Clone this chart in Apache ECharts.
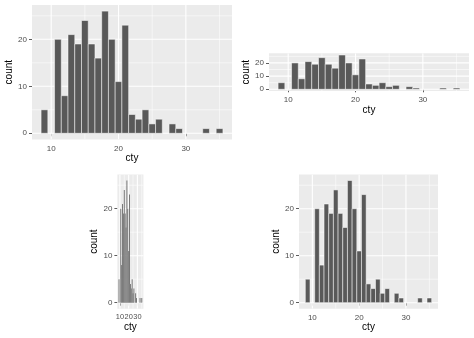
<!DOCTYPE html>
<html>
<head>
<meta charset="utf-8">
<script src="https://cdn.jsdelivr.net/npm/echarts@6/dist/echarts.min.js"></script>
<style>
  html, body { margin: 0; padding: 0; background: #ffffff; }
  #chart { width: 474px; height: 338px; }
</style>
</head>
<body>
<div id="chart"></div>
<script>
// City mileage (cty) histogram, binwidth 1, drawn in four panels of different shapes
const ctyValues = [9, 11, 12, 13, 14, 15, 16, 17, 18, 19, 20, 21, 22, 23, 24, 25, 26, 28, 29, 33, 35];
const ctyCounts = [5, 20, 8, 21, 19, 24, 19, 16, 26, 20, 11, 23, 4, 3, 5, 2, 3, 2, 1, 1, 1];
const xBreaks = [10, 20, 30];
const xMinorBreaks = [15, 25, 35];
const yBreaks = [0, 10, 20];
const yMinorBreaks = [5, 15, 25];
const binWidth = 1;

const FONT = "'Liberation Sans', Arial, Helvetica, sans-serif";
const X_MIN = 7.15, X_MAX = 36.85;
const Y_MIN = -1.3, Y_MAX = 27.3;

// panel rectangles (left, top, width, height), bar outline width, x tick label size
const panels = [
  { left: 32,    top: 5,     width: 200, height: 134.4, outline: 0.5, xLabelSize: 8 },
  { left: 269,   top: 53.3,  width: 200, height: 37.7,  outline: 0.5, xLabelSize: 8 },
  { left: 117.4, top: 174.4, width: 26,  height: 134.4, outline: 0.1, xLabelSize: 7.4 },
  { left: 299,   top: 174.4, width: 139, height: 134.4, outline: 0.5, xLabelSize: 8 }
];

const histData = ctyValues.map((v, i) => [v, ctyCounts[i]]);

// grid line rows: [x, y, kind]  kind 0 = major vertical, 1 = minor vertical, 2 = major horizontal, 3 = minor horizontal
const gridLineData = []
  .concat(xBreaks.map(v => [v, 0, 0]))
  .concat(xMinorBreaks.map(v => [v, 0, 1]))
  .concat(yBreaks.map(v => [20, v, 2]))
  .concat(yMinorBreaks.map(v => [20, v, 3]));

function renderGridLine(params, api) {
  const cs = params.coordSys;
  const kind = api.value(2);
  const p = api.coord([api.value(0), api.value(1)]);
  const major = kind === 0 || kind === 2;
  const shape = (kind < 2)
    ? { x1: p[0], y1: cs.y, x2: p[0], y2: cs.y + cs.height }
    : { x1: cs.x, y1: p[1], x2: cs.x + cs.width, y2: p[1] };
  return {
    type: 'line',
    shape: shape,
    style: { stroke: '#ffffff', lineWidth: major ? 1.1 : 0.55 },
    silent: true
  };
}

function makeBarRenderer(outline) {
  return function (params, api) {
    const x = api.value(0);
    const c = api.value(1);
    const topLeft = api.coord([x - binWidth / 2, c]);
    const bottomRight = api.coord([x + binWidth / 2, 0]);
    return {
      type: 'rect',
      shape: {
        x: topLeft[0],
        y: topLeft[1],
        width: bottomRight[0] - topLeft[0],
        height: bottomRight[1] - topLeft[1]
      },
      style: { fill: '#595959', stroke: '#ffffff', lineWidth: outline }
    };
  };
}

const grids = [], xAxes = [], yAxes = [], series = [];
panels.forEach((p, i) => {
  grids.push({
    left: p.left, top: p.top, width: p.width, height: p.height,
    show: true, backgroundColor: '#EBEBEB', borderWidth: 0,
    containLabel: false, outerBoundsMode: 'none'
  });
  xAxes.push({
    type: 'value', gridIndex: i, min: X_MIN, max: X_MAX,
    name: 'cty', nameLocation: 'middle', nameGap: 13,
    nameTextStyle: { fontFamily: FONT, fontSize: 10, color: '#000000' },
    axisLine: { show: false },
    axisTick: { show: true, inside: false, length: 3, customValues: xBreaks,
                lineStyle: { color: '#333333', width: 0.8 } },
    axisLabel: { show: true, margin: 5, customValues: xBreaks, hideOverlap: false,
                 fontFamily: FONT, fontSize: p.xLabelSize, color: '#4D4D4D' },
    splitLine: { show: false }, minorSplitLine: { show: false }
  });
  yAxes.push({
    type: 'value', gridIndex: i, min: Y_MIN, max: Y_MAX,
    name: 'count', nameLocation: 'middle', nameGap: 16,
    nameTextStyle: { fontFamily: FONT, fontSize: 10, color: '#000000' },
    axisLine: { show: false },
    axisTick: { show: true, inside: false, length: 3, customValues: yBreaks,
                lineStyle: { color: '#333333', width: 0.8 } },
    axisLabel: { show: true, margin: 5, customValues: yBreaks, hideOverlap: false,
                 fontFamily: FONT, fontSize: 8, color: '#4D4D4D' },
    splitLine: { show: false }, minorSplitLine: { show: false }
  });
  series.push({
    type: 'custom', xAxisIndex: i, yAxisIndex: i, z: 1,
    renderItem: renderGridLine, data: gridLineData,
    encode: { x: 0, y: 1 }, silent: true, clip: true
  });
  series.push({
    type: 'custom', xAxisIndex: i, yAxisIndex: i, z: 3,
    renderItem: makeBarRenderer(p.outline), data: histData,
    encode: { x: 0, y: 1 }, silent: true
  });
});

const chart = echarts.init(document.getElementById('chart'), null, { renderer: 'canvas' });
chart.setOption({
  animation: false,
  backgroundColor: '#ffffff',
  grid: grids,
  xAxis: xAxes,
  yAxis: yAxes,
  series: series
});
</script>
</body>
</html>
